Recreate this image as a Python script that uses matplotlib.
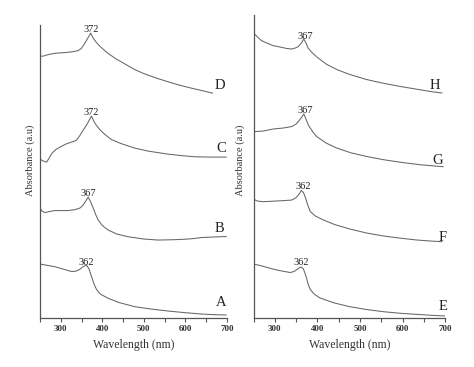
import matplotlib
matplotlib.use("Agg")
import matplotlib.pyplot as plt
from matplotlib.ticker import MultipleLocator

plt.rcParams['font.family'] = ['Liberation Serif', 'DejaVu Serif']

# Wavelength (nm) / absorbance (a.u., stacked offsets)
wl_D = [250, 258, 265, 275, 290, 310, 330, 342, 350, 358, 365, 372, 378, 385, 395, 410, 430, 455, 478, 500, 530, 557, 585, 614, 640, 665]
ab_D = [262, 262, 263, 264, 265, 265.5, 266.5, 267.5, 270, 275, 280, 285, 280, 276, 271.5, 266, 260, 254, 248.5, 244.5, 240, 236.5, 233, 230, 227.5, 225]
wl_C = [250, 258, 266, 272, 278, 288, 298, 312, 326, 333, 338, 345, 354, 362, 368, 374, 380, 386, 395, 408, 422, 445, 478, 510, 557, 590, 622, 660, 698]
ab_C = [159, 157, 156, 160, 164.5, 168.5, 171, 174, 176, 177, 178, 182, 188, 193, 197.5, 202, 196.5, 192.5, 188, 183, 178.5, 174.5, 170, 167, 164, 162.5, 161.3, 161, 161]
wl_B = [250, 255, 262, 272, 286, 300, 318, 335, 346, 354, 360, 366, 372, 378, 384, 390, 400, 414, 435, 462, 500, 534, 570, 598, 620, 638, 665, 698]
ab_B = [110, 107, 105.5, 106.5, 107.5, 107.5, 107.5, 108.5, 110, 113, 117, 121, 116, 110, 103.5, 98, 92.5, 88, 84, 81.3, 79, 78, 78.3, 78.8, 79.5, 80.5, 81, 81.5]
wl_A = [250, 270, 286, 305, 326, 336, 345, 354, 362, 368, 374, 380, 386, 395, 414, 440, 478, 520, 558, 600, 638, 670, 698]
ab_A = [54, 52.5, 51.3, 49, 46.5, 46.8, 48.5, 51.5, 53, 49, 41.5, 34, 28.5, 24, 19.7, 15.5, 11.3, 8.8, 7, 5.3, 4, 3.3, 3]

wl_H = [250, 258, 268, 281, 295, 312, 328, 340, 348, 355, 362, 368, 373, 378, 387, 400, 422, 448, 476, 515, 555, 595, 633, 665, 692]
ab_H = [285, 281.5, 277.5, 275, 272.5, 271, 269.5, 269, 270, 271.5, 275, 279, 275, 270, 265.5, 260.5, 253.5, 248, 243.5, 238.5, 234.7, 231.5, 228.8, 226.5, 225]
wl_G = [250, 273, 296, 320, 340, 350, 358, 364, 368, 373, 378, 383, 390, 398, 420, 445, 480, 516, 555, 594, 640, 695]
ab_G = [186.3, 187, 189, 190, 191.5, 194, 198, 201.5, 204, 199, 193.5, 190, 185.5, 181.5, 175, 170, 165, 161.5, 158.3, 155.8, 153.3, 151.3]
wl_F = [250, 258, 273, 290, 304, 325, 340, 350, 357, 362, 367, 372, 377, 383, 395, 414, 440, 476, 515, 555, 595, 633, 665, 692]
ab_F = [119, 117, 116.3, 116.7, 117, 117.5, 118, 120.5, 124, 127.5, 125.5, 120, 113, 106.5, 102, 98, 93.5, 89, 85, 82, 79.8, 78, 77, 76.3]
wl_E = [250, 270, 289, 310, 336, 345, 352, 358, 362, 367, 373, 378, 383, 392, 406, 440, 476, 515, 555, 595, 630, 665, 700]
ab_E = [54, 52, 49.7, 47.5, 45.5, 46.5, 48.5, 50.5, 51, 49, 42, 34, 28.5, 24, 20, 15, 11.3, 8.5, 6.3, 4.7, 3.7, 2.8, 2]

left_names = ["D", "C", "B", "A"]
left_peaks = ["372", "372", "367", "362"]
right_names = ["H", "G", "F", "E"]
right_peaks = ["367", "367", "362", "362"]

xticks = [300, 400, 500, 600, 700]

line_color = "#666666"
axis_color = "#555555"
text_color = "#222222"

fig = plt.figure(figsize=(4.74, 3.67), dpi=100)
ax1 = fig.add_axes([0.0844, 0.1335, 0.3945, 0.798])
ax2 = fig.add_axes([0.535, 0.1335, 0.4044, 0.8256])

left_series = [(wl_D, ab_D), (wl_C, ab_C), (wl_B, ab_B), (wl_A, ab_A)]
right_series = [(wl_H, ab_H), (wl_G, ab_G), (wl_F, ab_F), (wl_E, ab_E)]

# label positions (data coords)
left_name_pos = [(682, 233), (686, 170), (682, 90), (687, 16)]
left_peak_pos = [(374, 289), (374, 206), (366, 125), (362, 56)]
right_name_pos = [(676, 233), (683, 158), (695, 81), (695, 12)]
right_peak_pos = [(371, 282), (371, 208), (367, 132), (363, 56)]

for ax, series, names, peaks, npos, ppos, ytop, ylab_x, ylab_y in [
        (ax1, left_series, left_names, left_peaks, left_name_pos, left_peak_pos, 293, -0.028, 0.54),
        (ax2, right_series, right_names, right_peaks, right_name_pos, right_peak_pos, 303, -0.045, 0.52)]:
    for (x, y) in series:
        ax.plot(x, y, color=line_color, lw=0.75)
    for name, (px, py) in zip(names, npos):
        ax.text(px, py, name, ha="center", va="center", fontsize=10.5, color=text_color)
    for pk, (px, py) in zip(peaks, ppos):
        ax.text(px, py, pk, ha="center", va="center", fontsize=7.5, color=text_color, clip_on=False)
    ax.set_xlim(250, 700)
    ax.set_ylim(0, ytop)
    ax.set_xticks(xticks)
    ax.set_xticklabels([str(t) for t in xticks], fontsize=6.5, fontweight="bold", color="#333333")
    ax.xaxis.set_minor_locator(MultipleLocator(50))
    ax.tick_params(axis="x", which="both", direction="out", length=3, width=0.8, color=axis_color, pad=2)
    ax.set_yticks([])
    for s in ["top", "right"]:
        ax.spines[s].set_visible(False)
    for s in ["left", "bottom"]:
        ax.spines[s].set_color(axis_color)
        ax.spines[s].set_linewidth(0.9)
    ax.set_xlabel("Wavelength (nm)", fontsize=8.5, color="#333333", labelpad=4)
    ax.set_ylabel("Absorbance (a.u)", fontsize=7.5, color="#333333")
    ax.yaxis.set_label_coords(ylab_x, ylab_y)

fig.savefig("out.png", dpi=100)
